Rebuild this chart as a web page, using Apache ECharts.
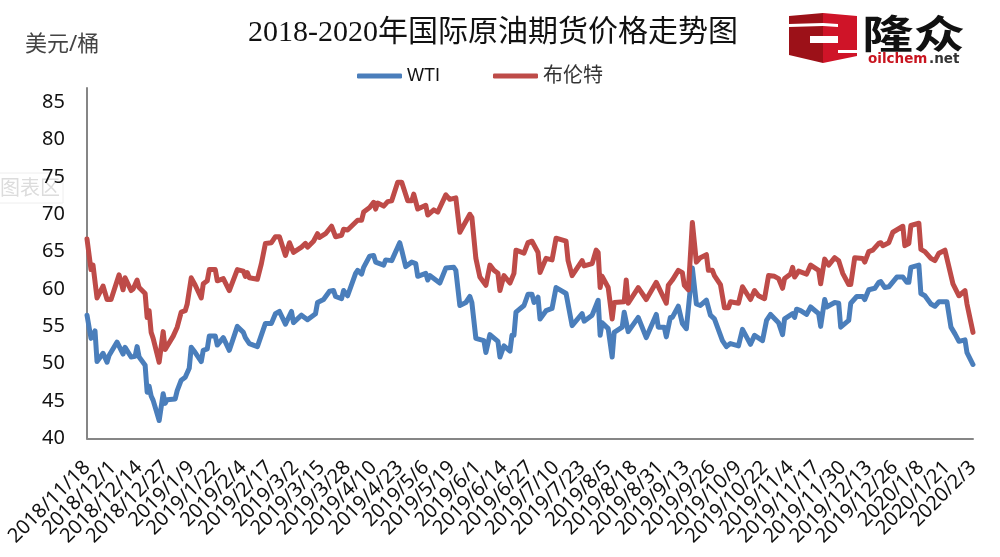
<!DOCTYPE html>
<html>
<head>
<meta charset="utf-8">
<title>2018-2020年国际原油期货价格走势图</title>
<script src="https://cdn.jsdelivr.net/npm/echarts@6/dist/echarts.min.js"></script>
<style>
html,body{margin:0;padding:0;background:#fff;}
#chart{width:1000px;height:557px;}
</style>
</head>
<body>
<div id="chart"></div>
<script>
// x轴标签，每13天一个
var tickLabels = ['2018/11/18','2018/12/1','2018/12/14','2018/12/27','2019/1/9','2019/1/22','2019/2/4','2019/2/17','2019/3/2','2019/3/15','2019/3/28','2019/4/10','2019/4/23','2019/5/6','2019/5/19','2019/6/1','2019/6/14','2019/6/27','2019/7/10','2019/7/23','2019/8/5','2019/8/18','2019/8/31','2019/9/13','2019/9/26','2019/10/9','2019/10/22','2019/11/4','2019/11/17','2019/11/30','2019/12/13','2019/12/26','2020/1/8','2020/1/21','2020/2/3'];

// 距 2018/11/18 的天数 + 价格
var wtiDays = [0,2,4,5,8,10,11,15,18,19,22,24,25,26,29,30,31,32,33,36,38,39,40,44,45,47,49,51,52,54,57,58,60,61,64,65,68,71,75,78,79,81,85,89,92,94,96,99,102,103,107,110,114,115,118,121,123,124,127,128,130,134,135,137,138,141,143,144,146,148,149,152,156,157,159,162,164,165,169,170,171,176,179,183,184,186,189,191,192,194,198,199,201,205,206,208,211,212,213,214,218,220,222,223,225,226,229,232,234,239,242,247,248,252,255,256,257,260,262,263,267,268,270,275,279,284,285,288,289,291,292,295,297,299,302,304,306,309,311,313,317,319,321,325,327,331,333,337,339,341,345,347,348,352,353,354,356,359,361,365,366,368,369,373,375,376,380,381,384,387,388,390,393,395,396,398,400,404,407,409,410,411,415,416,418,421,423,425,429,431,433,435,438,439,442];
var wtiValues = [56.5,53.4,54.4,50.3,51.4,50.2,51.1,52.9,51.3,52.2,50.9,51,52.3,50.9,49.8,46.2,47,45.7,45.1,42.4,46,44.7,45.2,45.3,46.4,47.8,48.2,49.4,52.2,51.5,50.3,51.8,52,53.7,53.7,52.5,53.5,51.8,55,54.2,53.5,52.7,52.3,55.4,55.4,56.7,57,55.3,57,55.5,56.5,55.9,56.7,58.2,58.6,59.7,59.8,59,58.7,59.8,59.1,62.1,62.5,62,62.9,64.4,64.5,63.6,63.4,63.2,63.9,63.8,66.2,65.2,63,63.6,63.4,61.7,62.1,61.2,61.8,60.8,62.8,62.9,62.5,57.8,58.2,59,58.2,53.4,53.1,51.5,53.9,53,50.9,52.4,51.7,53.8,53.8,56.9,57.8,59.3,59.3,58.2,58.9,56,57.1,57.4,60.2,59.4,55.1,56.7,55.7,56.5,58.5,53.8,55.5,54.7,50.9,54.2,54.9,56.9,54.3,56.2,53.5,56.6,54.9,54.9,53.6,56.2,56.2,57.7,55.4,54.7,62.8,58,57.8,58.5,56.5,56,53.1,52.3,52.7,52.4,54.6,52.6,53.8,53.1,55.8,56.6,55.5,53.9,56,56.7,56.2,57.3,57.1,56.6,57.6,56.7,55,58.6,57.6,58.2,58.1,54.9,55.8,58.1,59,59,58.6,59.9,60.1,60.9,61,60.2,60.3,61.6,61.6,60.9,60.9,62.9,63.2,59.4,59.1,58,57.7,58.3,58.3,54.9,54,53,53.2,51.5,49.9];

var brentDays = [0,2,3,5,8,10,12,16,18,19,22,23,25,26,29,30,31,32,33,36,38,39,43,45,47,49,50,52,54,57,58,60,61,64,65,68,71,75,78,79,80,81,85,87,89,92,94,96,99,101,103,107,109,110,113,115,116,119,122,124,127,128,130,135,137,138,141,143,144,145,148,150,152,155,157,160,162,163,165,169,170,173,175,179,181,184,186,191,192,194,196,199,201,203,205,206,208,211,213,214,218,220,222,225,226,229,232,234,239,240,242,247,248,252,254,255,256,257,260,262,263,268,269,270,275,279,284,289,290,292,295,297,298,300,302,304,306,309,310,312,313,316,318,320,321,325,327,331,333,335,338,340,343,345,347,348,351,352,353,355,359,361,365,366,368,370,373,375,377,380,381,383,387,388,390,392,395,396,397,400,402,407,408,410,411,415,416,418,421,423,425,428,432,435,438,439,442];
var brentValues = [66.7,62.6,63.2,58.8,60.4,58.6,58.6,61.9,59.9,61.5,59.8,60,61.2,60.2,59.4,56.2,57.1,54.2,53.4,50.2,54.3,51.9,53.7,54.9,56.9,57.1,58,61.5,60.5,58.8,60.7,61.1,62.6,62.6,61.1,61.4,59.8,62.6,62.4,61.7,62.2,61.5,61.3,63.4,66.1,66.2,67,67,64.5,66.2,64.9,65.6,66.1,65.6,66.4,67.4,66.9,67.4,68.4,67,67.2,68,67.9,69.2,69.2,70.3,70.9,71.6,70.7,71.5,71.1,71.7,71.8,74.3,74.3,71.8,71.8,72.7,70.7,71.2,69.9,70.6,70.3,72.6,72,72.2,67.6,70,69.6,64.1,61.6,60.5,63.2,62.5,62.1,59.8,61.8,60.8,62.1,65.2,64.8,66.2,66.4,64.9,62.2,64.1,63.9,66.8,66.4,63.8,61.8,63.8,63.1,63.4,65.2,64.9,60.2,61.7,60.2,56,58.2,58.3,61.2,58.1,60.2,58.6,60.9,58.1,60.5,61.2,62.5,62.2,60.5,59.9,68.9,63.6,64.2,64.6,62.5,62.5,61.8,60.6,57.5,57.5,58.3,58.1,60.3,58.6,59.8,59.1,58.7,61.8,61.7,61.4,60.1,61.4,62,62.9,61.6,62.4,62,63.2,62.5,60.7,64,63.2,64.2,63.8,62.1,60.6,60.6,64.2,64.1,63.6,65,65.2,66.1,66.2,65.8,66.2,67.6,68.4,65.8,66.1,68.5,68.8,65.3,65,64.1,63.8,64.8,65.2,60.7,59.1,59.8,58,54.2];

function pairs(days, values) {
	var res = [];
	for (var i = 0; i < days.length; i++) {
		res.push([days[i], values[i]]);
	}
	return res;
}

// 类目轴按天铺开，只有标签日有文字
var dayCategories = [];
for (var d = 0; d <= (tickLabels.length - 1) * 13; d++) {
	dayCategories.push(d % 13 === 0 ? tickLabels[d / 13] : '');
}

var myChart = echarts.init(document.getElementById('chart'));
var serifFont = '"Liberation Serif","Noto Sans CJK SC",serif';
var sansFont = '"Noto Sans","Noto Sans CJK SC",sans-serif';

var option = {
	animation: false,
	backgroundColor: '#fff',
	title: {
		text: '2018-2020年国际原油期货价格走势图',
		left: 243,
		top: 13,
		textStyle: { fontFamily: serifFont, fontSize: 30, fontWeight: 'normal', color: '#111' }
	},
	legend: {
		left: 352,
		top: 61,
		icon: 'roundRect',
		itemWidth: 45,
		itemHeight: 5,
		itemGap: 53,
		textStyle: { fontFamily: sansFont, fontSize: 20, color: '#333' },
		data: [
			{ name: 'WTI', textStyle: { fontFamily: '"Liberation Sans"', fontSize: 18, color: '#111' } },
			{ name: '布伦特' }
		]
	},
	grid: { left: 87, right: 27, top: 88, bottom: 118.5 },
	xAxis: {
		type: 'category',
		data: dayCategories,
		boundaryGap: false,
		splitLine: { show: false },
		axisTick: { show: false },
		axisLine: { lineStyle: { color: '#868686', width: 2 } },
		axisLabel: {
			interval: 0,
			rotate: 45,
			margin: 26,
			fontFamily: sansFont,
			fontSize: 20,
			color: '#111'
		}
	},
	yAxis: {
		type: 'value',
		min: 40,
		max: 86.9,
		interval: 5,
		splitLine: { show: false },
		axisTick: { show: false },
		axisLine: { show: true, lineStyle: { color: '#868686', width: 2 } },
		axisLabel: {
			showMaxLabel: false,
			margin: 22,
			fontFamily: sansFont,
			fontSize: 20,
			color: '#111'
		}
	},
	series: [
		{
			name: 'WTI',
			type: 'line',
			symbol: 'none',
			data: pairs(wtiDays, wtiValues),
			lineStyle: { color: '#4a7ebb', width: 5, join: 'round', cap: 'round' },
			itemStyle: { color: '#4a7ebb' }
		},
		{
			name: '布伦特',
			type: 'line',
			symbol: 'none',
			data: pairs(brentDays, brentValues),
			lineStyle: { color: '#be4b48', width: 5, join: 'round', cap: 'round' },
			itemStyle: { color: '#be4b48' }
		}
	],
	graphic: [
		// 单位
		{ type: 'text', left: 25, top: 34, style: { text: '美元/桶', fontFamily: sansFont, fontSize: 22, fill: '#444' } },
		// 截图里残留的"图表区"提示框
		{ type: 'rect', shape: { x: -2, y: 173, width: 65, height: 30 }, style: { fill: '#fff', stroke: '#eeeeee', lineWidth: 1 }, z: 0 },
		{ type: 'text', left: 0, top: 179, z: 0, style: { text: '图表区', fontFamily: sansFont, fontSize: 20, fill: '#dcdcdc' } },
		// logo
		{ type: 'polygon', shape: { points: [[789,16],[823,13],[823,63],[789,55]] }, style: { fill: '#9c1118' } },
		{ type: 'polygon', shape: { points: [[823,13],[857,16],[857,56],[823,63]] }, style: { fill: '#cf1428' } },
		{ type: 'polygon', shape: { points: [[789,24],[823,23],[838,24],[838,27],[823,26],[789,27]] }, style: { fill: '#fff' } },
		{ type: 'polygon', shape: { points: [[810,36],[838,36],[838,43],[810,43]] }, style: { fill: '#fff' } },
		{ type: 'polygon', shape: { points: [[838,50],[857,50],[857,53],[838,53]] }, style: { fill: '#fff' } },
		{ type: 'text', x: 862, y: 13, scaleX: 1.05, scaleY: 0.8, style: { text: '隆众', fontFamily: '"Noto Sans CJK SC"', fontSize: 49, fontWeight: 'bold', fill: '#111' } },
		{ type: 'text', x: 868, y: 52, style: { text: 'oilchem', fontFamily: '"DejaVu Sans"', fontSize: 13.5, fontWeight: 'bold', fill: '#c8141f' } },
		{ type: 'text', x: 929, y: 52, style: { text: '.net', fontFamily: '"DejaVu Sans"', fontSize: 13.5, fontWeight: 'bold', fill: '#333' } }
	]
};
myChart.setOption(option);
</script>
</body>
</html>
